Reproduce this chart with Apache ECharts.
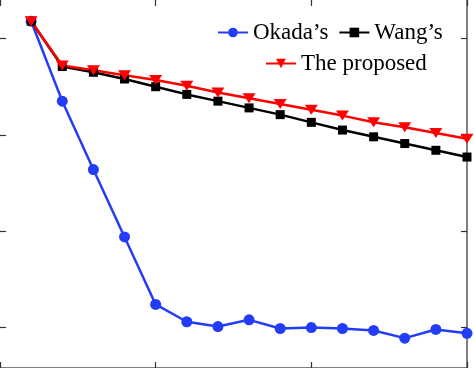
<!DOCTYPE html>
<html>
<head>
    <meta charset="utf-8">
    <script src="https://cdn.jsdelivr.net/npm/echarts@6/dist/echarts.min.js"></script>
</head>
<style>
    *{
        margin:0;
        padding:0;
    }
    body{
        background:#fff;
    }
</style>
<body>
<div id="main" style="width:474px;height:368px;"></div>
<script type="text/javascript">
    // x positions of the samples
    var xs = [1, 2, 3, 4, 5, 6, 7, 8, 9, 10, 11, 12, 13, 14, 15];
    // values
    var okada = [3.18, 2.35, 1.64, 0.94, 0.24, 0.06, 0.01, 0.08, -0.01, 0.00, -0.01, -0.03, -0.11, -0.02, -0.06];
    var wang = [3.18, 2.71, 2.65, 2.58, 2.50, 2.42, 2.35, 2.28, 2.21, 2.13, 2.05, 1.98, 1.91, 1.84, 1.77];
    var proposed = [3.18, 2.72, 2.67, 2.62, 2.57, 2.51, 2.44, 2.38, 2.32, 2.26, 2.20, 2.13, 2.08, 2.02, 1.96];
    var yTicks = [0, 1, 2, 3];
    var names = ['Okada\u2019s', 'Wang\u2019s', 'The proposed'];

    function pairs(v) {
        return xs.map(function (x, i) { return [x, v[i]]; });
    }

    var myChart = echarts.init(document.getElementById('main'));

    // the left and top edges fall just outside the picture
    var axisLine = {show: true, onZero: false, lineStyle: {color: '#555', width: 1.5}};
    var noLine = {show: false, onZero: false};
    var tick = {show: true, inside: true, length: 6, lineStyle: {color: '#333', width: 1.2}};
    var legendText = {fontFamily: 'Liberation Serif', fontSize: 23, color: '#000'};

    var option = {
        animation: false,
        grid: {left: -1, right: 7, top: -1, bottom: -2, containLabel: false},
        legend: [{
            data: [names[0], names[1]],
            left: 212, top: 16,
            itemWidth: 30, itemHeight: 12, itemGap: 10,
            textStyle: legendText
        }, {
            data: [names[2]],
            left: 260, top: 47,
            itemWidth: 30, itemHeight: 12,
            textStyle: legendText
        }],
        xAxis: [{
            type: 'value', min: 0, max: 15, interval: 5, position: 'bottom',
            axisLine: axisLine, axisTick: tick, axisLabel: {show: false}, splitLine: {show: false}
        }, {
            type: 'value', min: 0, max: 15, interval: 5, position: 'top',
            axisLine: noLine, axisTick: tick, axisLabel: {show: false}, splitLine: {show: false}
        }],
        yAxis: [{
            type: 'value', min: -0.42, max: 3.40, position: 'left',
            axisLine: noLine,
            axisTick: Object.assign({customValues: yTicks}, tick),
            axisLabel: {show: false}, splitLine: {show: false}
        }, {
            type: 'value', min: -0.42, max: 3.40, position: 'right',
            axisLine: axisLine,
            axisTick: Object.assign({customValues: yTicks}, tick),
            axisLabel: {show: false}, splitLine: {show: false}
        }],
        series: [{
            name: names[0], type: 'line', data: pairs(okada),
            symbol: 'circle', symbolSize: 11,
            lineStyle: {color: '#233cf5', width: 2.5},
            itemStyle: {color: '#233cf5'}
        }, {
            name: names[1], type: 'line', data: pairs(wang),
            symbol: 'rect', symbolSize: 9,
            lineStyle: {color: '#000', width: 2.5},
            itemStyle: {color: '#000'}
        }, {
            name: names[2], type: 'line', data: pairs(proposed),
            symbol: 'triangle', symbolSize: [13, 10], symbolRotate: 180,
            lineStyle: {color: '#ff0000', width: 2.5},
            itemStyle: {color: '#ff0000'}
        }]
    };

    myChart.setOption(option);
</script>
</body>
</html>
